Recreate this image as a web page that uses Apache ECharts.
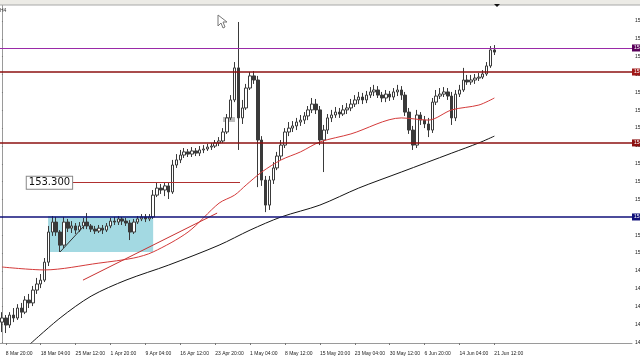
<!DOCTYPE html>
<html><head><meta charset="utf-8">
<script src="https://cdn.jsdelivr.net/npm/echarts@6/dist/echarts.min.js"></script>
<style>html,body{margin:0;padding:0;background:#fff}#c{width:640px;height:360px}</style>
</head><body><div id="c"></div>
<script>
// ---- data ----
const timeLabels = ['8 Mar 20:00','18 Mar 04:00','25 Mar 12:00','1 Apr 20:00','9 Apr 04:00','16 Apr 12:00','23 Apr 20:00','1 May 04:00','8 May 12:00','15 May 20:00','23 May 04:00','30 May 12:00','6 Jun 20:00','14 Jun 04:00','21 Jun 12:00'];
const priceTicks = [159.960,159.225,158.490,157.755,157.020,156.285,155.550,154.815,154.080,153.345,152.610,151.875,151.140,150.405,149.670,148.935,148.200,147.465,146.730];
// [open, close, low, high]
const ohlc = [
[147.56,147.73,147.15,147.97],[147.73,147.44,147.11,147.85],[147.44,147.85,147.32,147.97],[147.85,147.73,147.56,148.14],
[147.73,148.14,147.65,148.30],[148.14,147.97,147.73,148.35],[147.97,148.47,147.89,148.63],[148.47,148.35,148.14,148.72],
[148.35,148.88,148.22,149.05],[148.88,149.13,148.72,149.38],[149.13,149.29,148.96,149.54],[149.29,150.03,149.21,150.20],
[150.03,151.27,149.87,151.52],[151.27,151.68,151.11,151.93],[151.68,151.27,151.11,151.89],[151.27,150.73,150.45,151.35],
[150.73,151.68,150.61,151.89],[151.68,151.43,151.27,151.81],[151.43,151.52,151.23,151.72],[151.52,151.35,151.19,151.64],
[151.35,151.52,151.27,151.68],[151.52,151.68,151.39,151.85],[151.68,151.52,151.39,152.05],[151.52,151.39,151.27,151.60],
[151.39,151.31,151.19,151.52],[151.31,151.43,151.23,151.56],[151.43,151.35,151.19,151.56],[151.35,151.52,151.27,151.64],
[151.52,151.72,151.43,151.85],[151.72,151.68,151.56,151.89],[151.68,151.81,151.56,151.93],[151.81,151.72,151.56,151.89],
[151.72,151.64,151.52,151.85],[151.64,151.27,150.94,151.76],[151.27,151.68,151.19,151.81],[151.68,151.81,151.60,151.93],
[151.81,151.89,151.72,152.01],[151.89,151.81,151.68,152.01],[151.81,151.89,151.72,152.01],[151.89,152.79,151.81,153.00],
[152.79,153.08,152.71,153.33],[153.08,153.00,152.84,153.25],[153.00,153.17,152.75,153.33],[153.17,152.92,152.63,153.29],
[152.92,154.03,152.84,154.24],[154.03,154.24,153.91,154.48],[154.24,154.44,154.11,154.65],[154.44,154.57,154.32,154.73],
[154.57,154.48,154.36,154.69],[154.48,154.61,154.36,154.77],[154.61,154.52,154.40,154.73],[154.52,154.65,154.40,154.81],
[154.65,154.69,154.52,154.85],[154.69,154.77,154.61,154.90],[154.77,154.81,154.65,154.94],[154.81,154.94,154.73,155.06],
[154.94,155.02,154.81,155.18],[155.02,155.39,154.94,155.55],[155.39,155.97,155.31,156.13],[155.97,156.71,155.88,156.91],
[156.71,158.03,156.62,158.27],[158.03,155.97,154.65,159.92],[155.97,156.38,155.72,156.71],[156.38,157.20,156.30,157.37],
[157.20,157.70,157.12,157.86],[157.70,157.53,157.37,157.90],[157.53,155.06,153.12,157.70],[155.06,153.41,153.17,155.22],
[153.41,152.38,152.09,153.58],[152.38,153.41,152.18,153.58],[153.41,153.91,153.25,154.15],[153.91,154.40,153.82,154.57],
[154.40,154.85,154.24,155.06],[154.85,155.39,154.73,155.55],[155.39,155.55,155.22,155.80],[155.55,155.64,155.39,155.84],
[155.64,155.80,155.47,155.97],[155.80,155.88,155.64,156.09],[155.88,156.05,155.72,156.21],[156.05,156.30,155.88,156.46],
[156.30,156.54,156.17,156.79],[156.54,156.30,156.13,156.75],[156.30,155.06,154.85,156.46],[155.06,155.47,153.74,155.68],
[155.47,155.97,155.31,156.13],[155.97,156.09,155.80,156.30],[156.09,156.21,155.97,156.42],[156.21,156.13,155.97,156.38],
[156.13,156.30,156.05,156.50],[156.30,156.38,156.13,156.58],[156.38,156.54,156.25,156.75],[156.54,156.71,156.42,156.91],
[156.71,156.83,156.54,157.04],[156.83,156.71,156.54,157.00],[156.71,156.91,156.58,157.08],[156.91,157.04,156.79,157.24],
[157.04,157.12,156.87,157.33],[157.12,156.91,156.79,157.28],[156.91,156.79,156.62,157.04],[156.79,156.95,156.62,157.12],
[156.95,156.83,156.67,157.08],[156.83,157.04,156.71,157.20],[157.04,157.12,156.87,157.33],[157.12,156.91,156.71,157.28],
[156.91,156.21,156.05,157.04],[156.21,155.47,155.31,156.38],[155.47,154.85,154.65,155.64],[154.85,156.09,154.73,156.30],
[156.09,155.88,155.68,156.21],[155.88,155.72,155.55,156.05],[155.72,155.47,155.18,155.97],[155.47,156.62,155.35,156.79],
[156.62,156.87,156.50,157.12],[156.87,156.95,156.75,157.20],[156.95,157.04,156.83,157.24],[157.04,156.87,156.71,157.20],
[156.87,155.97,155.68,157.04],[155.97,156.95,155.84,157.12],[156.95,157.12,156.83,157.33],[157.12,157.53,157.04,158.03],
[157.53,157.45,157.33,157.74],[157.45,157.53,157.33,157.74],[157.53,157.61,157.37,157.78],[157.61,157.65,157.49,157.82],
[157.65,157.78,157.57,157.94],[157.78,158.11,157.70,158.27],[158.11,158.77,158.03,158.93],[158.77,158.68,158.56,158.97]
];
// moving averages: [bar index, price]
const maRed = [[0,149.83],[11,149.71],[25,149.99],[34,150.20],[39,150.45],[48,151.27],[56,152.46],[60,152.79],[63,153.21],[67,153.74],[72,154.24],[77,154.57],[82,154.98],[90,155.31],[103,155.97],[110,155.88],[116,156.30],[123,156.50],[127,156.79]];
const maBlack = [[7,146.62],[15,147.73],[23,148.63],[32,149.29],[43,149.91],[56,150.73],[64,151.35],[72,151.89],[82,152.38],[92,153.08],[103,153.74],[116,154.52],[123,154.94],[127,155.22]];
// horizontal levels
const levelPrices = [158.85, 157.86, 154.94, 151.89];
const levelColors = ['#9a2aa8', '#8c1010', '#8c1010', '#10107a'];
const levelBoxColors = ['#5a005a', '#a01818', '#8c1010', '#10107a'];
const shortLevel = {price: 153.30, from: 18.1, to: 61.4};
const boxRange = {x1: 11.9, x2: 39.0, top: 151.93, bottom: 150.45};
const redTrend = [[20.9,149.29],[55.5,152.05]];
const blackTrend = [[15.0,150.45],[21.4,151.56]];

// ---- chart ----
const N = 163;
const cats = new Array(N).fill('');
timeLabels.forEach((t, k) => { cats[1 + 9 * k] = t; });

const chart = echarts.init(document.getElementById('c'), null, {renderer: 'canvas'});
const font = '"Liberation Sans", Arial, sans-serif';
chart.setOption({
  animation: false,
  backgroundColor: '#ffffff',
  grid: {left: 0, right: 8, top: 5, bottom: 17, containLabel: false, outerBoundsMode: 'none'},
  xAxis: [
    {type: 'category', data: cats, boundaryGap: true,
     axisLine: {show: true, lineStyle: {color: '#9a9a9a', width: 1}},
     axisTick: {show: true, length: 2, alignWithLabel: true, interval: (i, v) => v !== '', lineStyle: {color: '#777'}},
     axisLabel: {show: true, interval: (i, v) => v !== '', align: 'left', margin: 8, fontSize: 5, color: '#222', fontFamily: font, hideOverlap: false, showMinLabel: true},
     splitLine: {show: false}},
    {type: 'value', min: -0.5, max: N - 0.5, show: false}
  ],
  yAxis: {type: 'value', position: 'right', min: 146.7, max: 160.62, scale: true,
    axisLine: {show: true, lineStyle: {color: '#9a9a9a'}},
    axisTick: {show: true, length: 1, customValues: priceTicks, lineStyle: {color: '#777'}},
    axisLabel: {show: true, customValues: priceTicks, formatter: v => v.toFixed(3), fontSize: 5, margin: 3, color: '#222', fontFamily: font},
    splitLine: {show: false}},
  series: [
    {type: 'line', xAxisIndex: 1, data: [], z: 1, silent: true,
     markArea: {silent: true, itemStyle: {color: '#a3d9e2', opacity: 1},
       data: [[{coord: [boxRange.x1, boxRange.top]}, {coord: [boxRange.x2, boxRange.bottom]}]]}},
    {type: 'candlestick', xAxisIndex: 0, data: ohlc, barWidth: 3, z: 3, silent: true,
     itemStyle: {color: '#ffffff', color0: '#3a3a3a', borderColor: '#3a3a3a', borderColor0: '#3a3a3a', borderWidth: 1}},
    {type: 'line', xAxisIndex: 1, data: maRed, smooth: 0.3, showSymbol: false, z: 4, silent: true,
     lineStyle: {color: '#d43a3a', width: 1}},
    {type: 'line', xAxisIndex: 1, data: maBlack, smooth: 0.3, showSymbol: false, z: 4, silent: true,
     lineStyle: {color: '#141414', width: 1}},
    {type: 'line', xAxisIndex: 1, data: redTrend, showSymbol: false, z: 4, silent: true,
     lineStyle: {color: '#c83030', width: 1}},
    {type: 'line', xAxisIndex: 1, data: blackTrend, showSymbol: false, z: 4, silent: true,
     lineStyle: {color: '#333', width: 1}},
    {type: 'line', xAxisIndex: 1, data: [], z: 5, silent: true,
     markLine: {silent: true, symbol: ['none', 'none'], animation: false,
       data: levelPrices.map((p, i) => ({yAxis: p,
         lineStyle: {color: levelColors[i], width: i === 0 ? 1.2 : 1.6, type: 'solid'},
         label: {show: true, position: 'end', distance: 0, formatter: p.toFixed(3), color: '#fff',
           backgroundColor: levelBoxColors[i], fontSize: 5, padding: [1, 2], fontFamily: font}}))
       .concat([[{coord: [shortLevel.from, shortLevel.price],
         lineStyle: {color: '#b03030', width: 1, type: 'solid'},
         label: {show: true, position: 'start', distance: 0, formatter: shortLevel.price.toFixed(3), color: '#111',
           backgroundColor: '#fff', borderColor: '#888', borderWidth: 1, fontSize: 10, padding: [1, 2], fontFamily: '"DejaVu Sans", sans-serif'}},
         {coord: [shortLevel.to, shortLevel.price]}]])}}
  ],
  graphic: [
    {type: 'rect', left: 0, top: 0, shape: {width: 640, height: 5}, style: {fill: '#ecebe6'}, z: 100},
    {type: 'line', shape: {x1: 0, y1: 5, x2: 640, y2: 5}, style: {stroke: '#a8a8a8', lineWidth: 1}, z: 100},
    {type: 'polygon', shape: {points: [[494, 4], [500, 4], [497, 7]]}, style: {fill: '#111'}, z: 101},
    {type: 'text', left: 0, top: 8, style: {text: 'H4', fontSize: 5, fill: '#333', fontFamily: font}, z: 100},
    {type: 'rect', shape: {x: 223, y: 117, width: 12, height: 5}, style: {fill: '#bdbdbd'}, z: 2},
    {type: 'polygon', shape: {points: [[218, 15], [218, 26], [221, 23], [223, 28], [225, 27], [223, 22], [227, 22]]},
     style: {fill: '#fff', stroke: '#777', lineWidth: 1}, z: 102}
  ]
});
</script></body></html>
